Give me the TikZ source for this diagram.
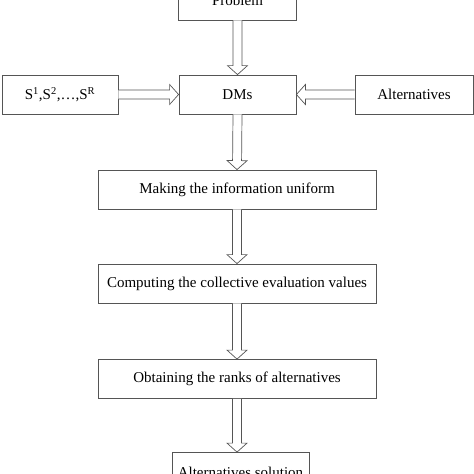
\documentclass[tikz,border=0pt]{standalone}
\usepackage{fontspec}
\setmainfont{Liberation Serif}
\usetikzlibrary{calc}
\definecolor{box_line}{RGB}{85, 85, 85}

\begin{document}
\begin{tikzpicture}[x=1pt, y=1pt,
  box/.style={draw=box_line, line width=0.8pt, minimum height=39pt, inner sep=0pt,
    font=\fontsize{15}{18}\selectfont},
  fat/.style={draw=box_line, fill=white, line width=0.7pt, line join=miter,
    to path={($(\tikztostart)!4.5pt!90:(\tikztotarget)$)
      -- ($($(\tikztotarget)!9pt!(\tikztostart)$)!4.5pt!90:(\tikztotarget)$)
      -- ($($(\tikztotarget)!9pt!(\tikztostart)$)!10pt!90:(\tikztotarget)$)
      -- (\tikztotarget)
      -- ($($(\tikztotarget)!9pt!(\tikztostart)$)!10pt!-90:(\tikztotarget)$)
      -- ($($(\tikztotarget)!9pt!(\tikztostart)$)!4.5pt!-90:(\tikztotarget)$)
      -- ($(\tikztostart)!4.5pt!-90:(\tikztotarget)$)}}]
\clip (0, 0) rectangle (474, -474);
\useasboundingbox (0, 0) rectangle (474, -474);

\node[box, minimum width=118pt] (prob) at (237.5, -0.5) {Problem};
\node[box, minimum width=117pt] (dms) at (237.5, -94.5) {DMs};
\node[box, minimum width=116pt] (sset) at (60, -94.5) {S\textsuperscript{1},S\textsuperscript{2},\dots,S\textsuperscript{R}};
\node[box, minimum width=118pt] (alts) at (414, -94.5) {Alternatives};
\node[box, minimum width=278pt] (unif) at (237, -189.5) {Making the information uniform};
\node[box, minimum width=278pt] (coll) at (237, -283.5) {Computing the collective evaluation values};
\node[box, minimum width=278pt] (rank) at (237, -379) {Obtaining the ranks of alternatives};
\node[box, minimum width=137pt] (sol) at (240.5, -472) {Alternatives solution};

\draw[fat] (prob.south) to (dms.north);
\draw[fat] (sset.east) to (dms.west);
\draw[fat] (alts.west) to (dms.east);
\draw[fat] (dms.south) to (unif.north);
\draw[fat] (unif.south) to (coll.north);
\draw[fat] (coll.south) to (rank.north);
\draw[fat] (rank.south) to (rank.south |- sol.north);

\end{tikzpicture}
\end{document}
